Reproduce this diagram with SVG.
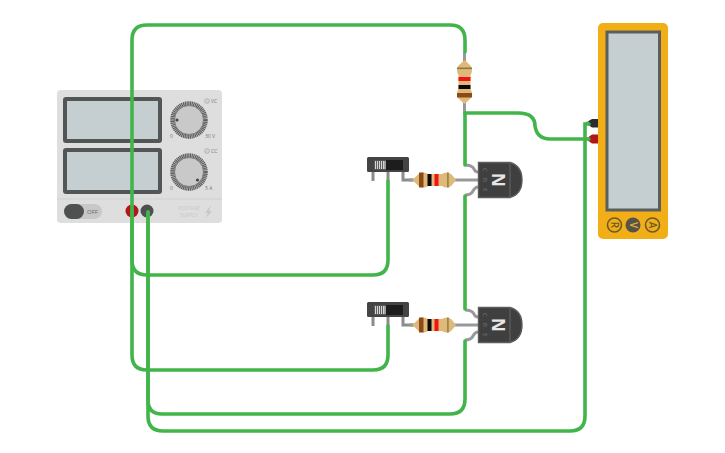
<svg xmlns="http://www.w3.org/2000/svg" width="725" height="453" viewBox="0 0 725 453">
<style>
text{font-family:"Open Sans","Liberation Sans",sans-serif}
.wire{fill:none;stroke:#41b54a;stroke-width:3.6;stroke-linecap:round}
.lead{fill:none;stroke:#999;stroke-width:3}
.pin{fill:none;stroke:#8c8c8c;stroke-width:3}
.disp{fill:#c5cfd2;stroke:#525756;stroke-width:4}
.knob{fill:#c9c9c9;stroke:#5e5e5e;stroke-width:4.500;stroke-dasharray:1.2 .5}
.knobin{fill:#c9c9c9;stroke:#6d6d6d;stroke-width:.8}
.lbl{font-size:5px;fill:#777}
.rbody{fill:#e0b878}
.tbody{fill:#3f3f3f;stroke:#5c5c5c;stroke-width:1.400}
.tsm{font-size:6px;fill:#777;text-anchor:middle}
.tn{font-size:17px;font-weight:700;fill:#e6e6e6;text-anchor:middle}
.mbtn{fill:none;stroke:#6a5a2c;stroke-width:1.6}
.mtx{font-size:10px;fill:#6a5a2c;text-anchor:middle;font-weight:600}
</style>
<defs>
<g id="sw">
<path class="pin" d="M373 170V181M388 170V181M403 170V180H413"/>
<rect x="367" y="157" width="42" height="15" rx="1.500" fill="#444"/>
<rect x="374" y="160" width="29" height="10" fill="#1d1d1d"/>
<rect x="374" y="160" width="12" height="10" fill="#555"/>
<path d="M375.500 161V169M377.500 161V169M379.500 161V169M381.500 161V169M383.500 161V169M385 161V169" stroke="#d5d5d5" stroke-width="1.100"/>
</g>
<g id="rh">
<path class="lead" d="M409 180H478"/>
<path class="rbody" d="M412.500 180L418 174.500Q420 172.500 423 172.500Q426 172.500 428 174H442Q444 172.500 447 172.500Q450 172.500 452 175L456 180L452 185Q450 187.500 447 187.500Q444 187.500 442 186H428Q426 187.500 423 187.500Q420 187.500 418 185.500Z"/>
<rect x="419" y="172.500" width="4.500" height="15" fill="#8b4a17"/>
<rect x="427.500" y="174" width="4" height="12" fill="#0a0a0a"/>
<rect x="434.500" y="174" width="4" height="12" fill="#f01414"/>
<rect x="447" y="172.500" width="1.800" height="15" fill="#9a8a4a"/>
</g>
<g id="tr">
<path class="lead" d="M465 165Q472 165 474 169Q475 172 478 172M478 187Q475 187 473 191Q471 195 465 195"/>
<path class="tbody" d="M478.500 162.500H510Q522 166 522 180Q522 194 510 197.500H478.500Z"/>
<path d="M510 163V197" stroke="#666" stroke-width="1"/>
<text class="tsm" transform="translate(483 170) rotate(90)">C</text>
<text class="tsm" transform="translate(483 180) rotate(90)">B</text>
<text class="tsm" transform="translate(483 190) rotate(90)">E</text>
<text class="tn" transform="translate(492 180) rotate(90)">N</text>
</g>
</defs>

<g id="power-supply">
<rect x="57" y="90" width="165" height="133" rx="4" fill="#dedede"/>
<path d="M57 199H222" stroke="#d0d0d0" stroke-width="1"/>
<rect class="disp" x="65" y="99" width="95" height="42" rx="1"/>
<rect class="disp" x="65" y="150" width="95" height="42" rx="1"/>
<circle class="knob" cx="189" cy="120" r="16.500"/>
<circle class="knobin" cx="189" cy="120" r="14.500"/>
<circle cx="177" cy="120" r="1.600" fill="#444"/>
<circle class="knob" cx="189" cy="172" r="16.500"/>
<circle class="knobin" cx="189" cy="172" r="14.500"/>
<circle cx="197.500" cy="180" r="1.600" fill="#444"/>
<circle cx="207" cy="101" r="2.500" fill="#cfcfcf" stroke="#aaa" stroke-width=".6"/>
<circle cx="207" cy="151" r="2.500" fill="#cfcfcf" stroke="#aaa" stroke-width=".6"/>
<text class="lbl" x="211" y="103">VC</text>
<text class="lbl" x="211" y="153">CC</text>
<text class="lbl" x="170" y="138">0</text>
<text class="lbl" x="205" y="138">30 V</text>
<text class="lbl" x="170" y="190">0</text>
<text class="lbl" x="205" y="190">5 A</text>
<rect x="64" y="204" width="38" height="15" rx="7.500" fill="#c8c8c8"/>
<rect x="64" y="204" width="20" height="15" rx="7.500" fill="#4f5150"/>
<text x="87" y="214" font-size="6" fill="#666">OFF</text>
<circle cx="132" cy="211" r="6.500" fill="#b01818"/>
<circle cx="147" cy="211" r="6.500" fill="#4f5150"/>
<text x="189" y="210" font-size="5" fill="#c8c8c8" text-anchor="middle">VOLTAGE</text>
<text x="189" y="217" font-size="5" fill="#c8c8c8" text-anchor="middle">SUPPLY</text>
<path d="M211 205L205 213H208L205 219L212 211H209Z" fill="#c8c8c8"/>
</g>

<g id="multimeter">
<path d="M586 123H592M586 139H592" stroke="#999" stroke-width="3"/>
<path d="M598 119H592L588.500 121V125L592 127.500H598Z" fill="#2d2d2d"/>
<path d="M598 134.500H592L588.500 137V141L592 143.500H598Z" fill="#b01818"/>
<rect x="598" y="23" width="70" height="216" rx="5" fill="#f2ae16"/>
<rect x="607" y="32" width="52.500" height="178" fill="#c5cfd2" stroke="#5a5f5e" stroke-width="3"/>
<circle class="mbtn" cx="614.500" cy="225" r="7"/>
<circle cx="633" cy="225" r="7.500" fill="#55534a"/>
<circle class="mbtn" cx="652.500" cy="225" r="7"/>
<text class="mtx" transform="translate(611 225) rotate(90)">R</text>
<text class="mtx" transform="translate(629.500 225) rotate(90)" style="fill:#e8b030">V</text>
<text class="mtx" transform="translate(649 225) rotate(90)">A</text>
</g>

<g id="resistor-top">
<path class="lead" d="M464.500 52V113"/>
<path class="rbody" d="M464.500 60L470 65Q472 67 472 70Q472 73 470.500 75V89Q472 91 472 94Q472 97 470 99L464.500 104L459 99Q457 97 457 94Q457 91 458.500 89V75Q457 73 457 70Q457 67 459 65Z"/>
<rect x="457" y="67.500" width="15" height="1.600" fill="#8a7a45"/>
<rect x="458.500" y="77" width="12" height="4" fill="#f01414"/>
<rect x="458.500" y="85" width="12" height="4" fill="#0a0a0a"/>
<rect x="457" y="93" width="15" height="4.500" fill="#8b4a17"/>
</g>

<g id="switch-1"><use href="#sw"/></g>
<g id="resistor-1"><use href="#rh"/></g>
<g id="transistor-1"><use href="#tr"/></g>
<g id="switch-2"><use href="#sw" y="145"/></g>
<g id="resistor-2"><use href="#rh" y="145"/></g>
<g id="transistor-2"><use href="#tr" y="145"/></g>

<g id="connectors">
<path class="wire" d="M465 52V40Q465 25 450 25H147Q132 25 132 40V260Q132 275 147 275H373Q388 275 388 260V181"/>
<path class="wire" d="M132 211V355Q132 370 147 370H373Q388 370 388 355V326"/>
<path class="wire" d="M148 212V400Q148 414 162 414H450Q465 414 465 399V341"/>
<path class="wire" d="M148 212V416Q148 431 163 431H570Q585 431 585 416V124H589"/>
<path class="wire" d="M465 113V165M465 196V309"/>
<path class="wire" d="M465 113H518Q535 113 535 126Q537 139 550 139H589"/>
</g>
</svg>
